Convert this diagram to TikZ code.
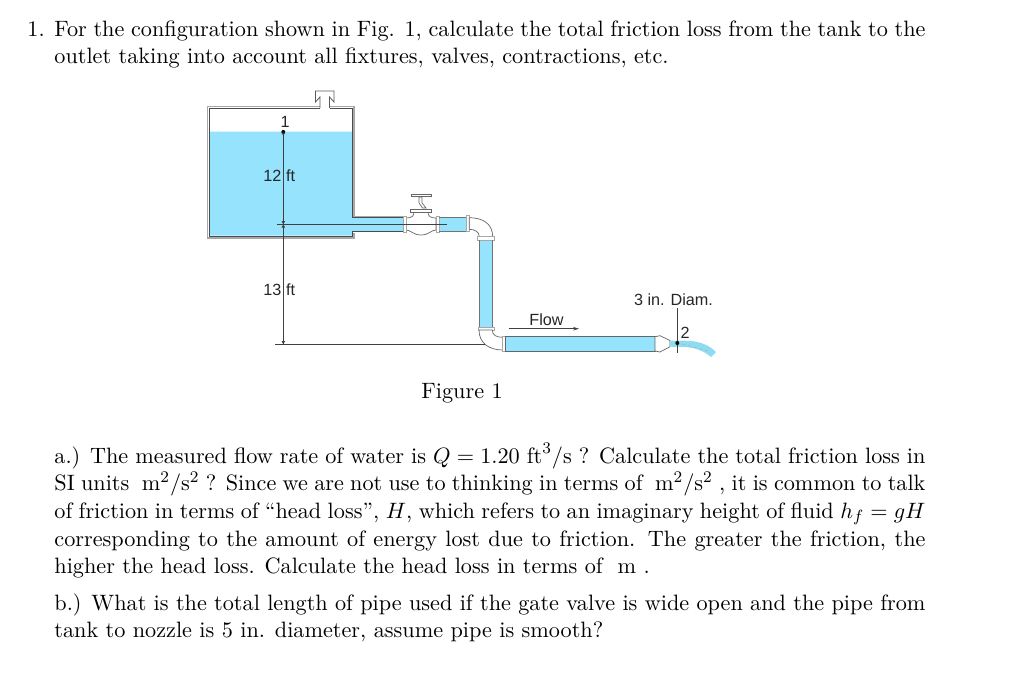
\documentclass[tikz,border=0pt]{standalone}
\usepackage{fontspec}
\usepackage{amsmath}
\usetikzlibrary{arrows.meta}
\newfontfamily\lab{Liberation Sans}
\definecolor{water}{HTML}{95E3FD}
\definecolor{jet}{HTML}{8FDCF2}
\definecolor{wall}{HTML}{A8A8A8}
\definecolor{ink}{HTML}{404040}
\tikzset{
 line/.style={inner sep=0pt,anchor=base west,scale=2.03,font=\fontsize{10.95}{13.6}\selectfont},
 lbl/.style={inner sep=0pt,font=\lab\fontsize{16.2}{18}\selectfont,text=black!85},
 dim/.style={draw=ink,line width=.7pt},
 pipeline/.style={draw=ink,line width=.9pt},
 gline/.style={draw=wall,line width=1.2pt},
 flange/.style={draw=wall,fill=white,line width=1pt},
 valve/.style={draw=black!60,fill=white,line width=.7pt},
}
\newcommand{\fl}[1]{\hbox to 429.1pt{#1}}
\begin{document}
\begin{tikzpicture}[x=1pt,y=-1pt]
\useasboundingbox (0,0) rectangle (1024,674);
% text
\node[line] (t1) at (27,36.5) {1.};
\node[line] (t1b) at (54,36.5) {\hbox to 429.1pt{For the configuration shown in Fig. 1, calculate the total friction loss from the tank to the}};
\node[line] (t2) at (54,63.5) {outlet taking into account all fixtures, valves, contractions, etc.};
\node[line] (fig) at (421,398) {Figure 1};
\node[line] (a1) at (54,463) {\fl{a.) The measured flow rate of water is $Q=1.20\ \mathrm{ft}^3/\mathrm{s}$ ? Calculate the total friction loss in}};
\node[line] (a2) at (54,490.5) {\fl{SI units $\ \mathrm{m}^2/\mathrm{s}^2$ ? Since we are not use to thinking in terms of $\ \mathrm{m}^2/\mathrm{s}^2$ , it is common to talk}};
\node[line] (a3) at (54,518) {\fl{of friction in terms of ``head loss'', $H$, which refers to an imaginary height of fluid $h_f=gH$}};
\node[line] (a4) at (54,546) {\fl{corresponding to the amount of energy lost due to friction.  The greater the friction, the}};
\node[line] (a5) at (54,573) {higher the head loss. Calculate the head loss in terms of $\ \mathrm{m}$ .};
\node[line] (b1) at (54,610) {\fl{b.) What is the total length of pipe used if the gate valve is wide open and the pipe from}};
\node[line] (b2) at (54,637.5) {tank to nozzle is 5 in. diameter, assume pipe is smooth?};
% water
\fill[water] (209,131.7) -- (352.5,131.7) -- (352.5,218) -- (404,218) -- (404,231) -- (352.5,231) -- (352.5,235.5) -- (209,235.5) -- cycle;
\fill[water] (439,218) rectangle (466,231);
\fill[water] (479.5,240) rectangle (492.5,327);
\fill[water] (505,337) rectangle (655,351);
% tank walls
\draw[gline] (320,106.7) -- (207.5,106.7) -- (207.5,238) -- (354,238) -- (354,233);
\draw[gline] (329.5,106.7) -- (354,106.7) -- (354,216.7);
\draw[draw=black!70,line width=.7pt] (320,108.5) -- (209.3,108.5) -- (209.3,236) -- (352.5,236) -- (352.5,231.5) -- (404,231.5);
\draw[draw=black!70,line width=.7pt] (329.5,108.5) -- (352.5,108.5) -- (352.5,217.7) -- (404,217.7);
\draw[gline] (354,216.7) -- (404,216.7);
% vent
\draw[draw=black!65,line width=.8pt] (320,108) -- (320,97) -- (315.5,102) -- (315.5,91) -- (334,91) -- (334,102) -- (329.5,97) -- (329.5,108);
% valve
\draw[valve] (422.5,208) -- (419,203) -- (419,197) -- (422,197) -- (422,203) -- (426,208) -- cycle;
\draw[valve] (411,194.3) rectangle (431,196.7);
\draw[valve] (406,218) .. controls (412,218) and (414,216) .. (414,212) -- (428,212) .. controls (428,216) and (430,218) .. (436,218) -- (436,230) .. controls (431,230) and (429,235) .. (421,235) .. controls (413,235) and (411,230) .. (406,230) -- cycle;
\draw[valve] (410.5,209) rectangle (431.5,212);
% flanges
\draw[flange] (403,216) rectangle (406,232.3);
\draw[flange] (436,216) rectangle (439,232.3);
\draw[flange] (466,215) rectangle (469.3,231.7);
% pipe edges
\draw[pipeline,draw=black!55] (439,217.5) -- (466,217.5) (439,231) -- (466,231);
% upper elbow
\draw[valve] (469.3,217.7) .. controls (483,217.7) and (492.7,224) .. (492.7,236.7) -- (479.3,236.7) .. controls (479.3,232) and (475,229.3) .. (469.3,229.3) -- cycle;
\draw[flange] (477.7,236.7) rectangle (494,240);
% vertical pipe
\draw[draw=black!55,line width=.9pt] (479.3,240) -- (479.3,327.3) (492.7,240) -- (492.7,327.3);
\draw[flange] (478.3,327.3) rectangle (494,330);
% lower elbow
\draw[valve] (479,330) .. controls (479,343) and (489,350) .. (502.7,350) -- (502.7,337.3) .. controls (496,337.3) and (492.3,335) .. (492.3,330) -- cycle;
\draw[flange] (502.7,336) rectangle (505.3,351.7);
% main pipe
\draw[draw=black!60,line width=.9pt] (505.3,336.7) rectangle (655,351);
% nozzle
\draw[valve] (655,336.7) -- (660,335.7) -- (670,340.5) -- (670,346.7) -- (660,352) -- (655,351) -- cycle;
% jet
\fill[jet] (670,340.5) -- (690,340.8) .. controls (702,342) and (710,346) .. (716,352) -- (711,357) .. controls (704,351) and (695,347.5) .. (685,347) -- (670,346.7) -- cycle;
\draw[black!35,line width=.4pt,dash pattern=on 3pt off 3pt] (682,344) -- (708,351);
% dimensions
\coordinate (p1) at (283.3,132);
\coordinate (mid) at (283.3,224.3);
\coordinate (bot) at (283.3,344.3);
\coordinate (d0) at (277,224.3);
\coordinate (d1) at (446.7,224.3);
\coordinate (e0) at (275,344.3);
\coordinate (e1) at (485,344.3);
\coordinate (p2) at (677.3,343);
\coordinate (n0) at (677.3,308);
\coordinate (n1) at (677.3,353);
\coordinate (f0) at (508.7,328.7);
\coordinate (f1) at (579,328.7);
\draw[dim] (p1) -- (bot);
\draw[dim] (d0) -- (d1);
\draw[dim] (e0) -- (e1);
\draw[dim] (n0) -- (n1);
\fill[black] (p1) circle (2);
\fill[black] (p2) circle (2);
\fill[ink] (283.3,224.3) -- (281.5,221) -- (285.1,221) -- cycle;
\fill[ink] (283.3,224.3) -- (281.5,227.6) -- (285.1,227.6) -- cycle;
\fill[ink] (283.3,344.3) -- (281.5,341) -- (285.1,341) -- cycle;
\fill[ink] (283.3,136) -- (281.5,132.5) -- (285.1,132.5) -- cycle;
\draw[dim,-{Stealth[length=6pt,width=3.5pt]}] (f0) -- (f1);
% labels
\node[lbl] (l1) at (285,122) {1};
\node[lbl,anchor=east] (l12) at (281.5,176) {12};
\node[lbl,anchor=west] (l12f) at (286,176) {ft};
\node[lbl,anchor=east] (l13) at (281.5,290) {13};
\node[lbl,anchor=west] (l13f) at (286,290) {ft};
\node[lbl] (ld) at (673.5,300) {3 in. Diam.};
\node[lbl] (lf) at (546.5,320) {Flow};
\node[lbl] (l2) at (685,332.5) {2};
\end{tikzpicture}
\end{document}
